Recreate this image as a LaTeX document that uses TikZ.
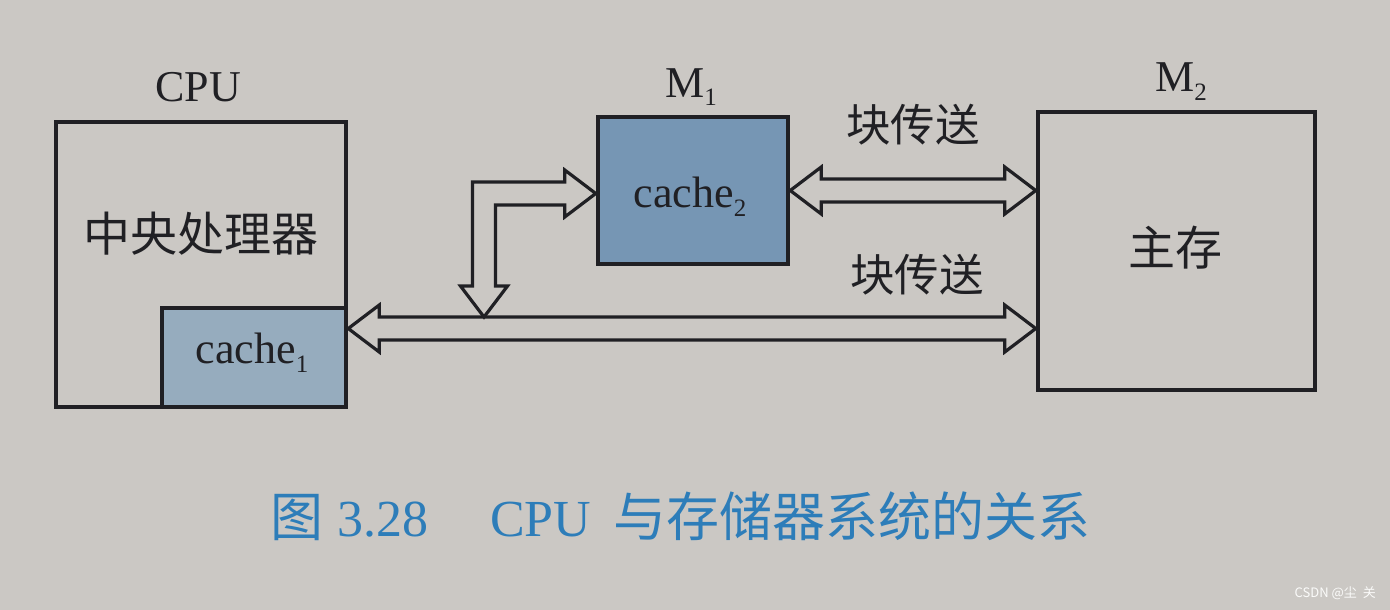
\documentclass[tikz,border=0pt]{standalone}
\usepackage{fontspec}
\setmainfont{Liberation Serif}
\newfontfamily\cjk{Noto Sans CJK SC}
\newfontfamily\wmfont{Noto Sans CJK SC}
\usetikzlibrary{calc}
\definecolor{bg}{RGB}{203,200,196}
\definecolor{ink}{RGB}{32,32,36}
\definecolor{cacheA}{RGB}{150,172,190}
\definecolor{cacheB}{RGB}{118,150,180}
\definecolor{capblue}{RGB}{45,125,185}
\def\arrHL{31pt}\def\arrHH{23.5pt}\def\arrSH{11.5pt}
\newcommand\subsc[1]{\raisebox{-9pt}{\fontsize{25}{25}\selectfont #1}}
\newcommand\dblarrow[2]{%
  \draw[hollow] let \p1=#1, \p2=#2 in
    (\x1,\y1) -- (\x1+\arrHL,\y1+\arrHH) -- (\x1+\arrHL,\y1+\arrSH)
    -- (\x2-\arrHL,\y1+\arrSH) -- (\x2-\arrHL,\y1+\arrHH) -- (\x2,\y1)
    -- (\x2-\arrHL,\y1-\arrHH) -- (\x2-\arrHL,\y1-\arrSH)
    -- (\x1+\arrHL,\y1-\arrSH) -- (\x1+\arrHL,\y1-\arrHH) -- cycle;}
\tikzset{
  box/.style={draw=ink, line width=4.5pt, inner sep=0pt, line join=miter},
  hollow/.style={draw=ink, line width=3.2pt, line join=miter, miter limit=10},
  lbl/.style={inner sep=0pt, font=\fontsize{44}{44}\selectfont, text=ink},
  cjklbl/.style={inner sep=0pt, font=\cjk\fontsize{47}{47}\selectfont, text=ink},
}
\begin{document}
\begin{tikzpicture}[x=1pt,y=-1pt]
\useasboundingbox (0,0) rectangle (1390,610);
\fill[bg] (0,0) rectangle (1390,610);

% boxes
\node[box, minimum width=290pt, minimum height=285pt] (cpu) at (201,264.5) {};
\node[box, fill=cacheA, minimum width=184pt, minimum height=99pt] (cache1) at (254,357.5) {};
\node[box, fill=cacheB, minimum width=190pt, minimum height=147pt] (m1) at (693,190.5) {};
\node[box, minimum width=277pt, minimum height=278pt] (m2) at (1176.5,251) {};

% labels
\node[lbl, anchor=base] (cpulbl) at (198,102) {CPU};
\node[lbl, anchor=base] (m1lbl) at (691,97) {M\subsc{1}};
\node[lbl, anchor=base] (m2lbl) at (1181,92) {M\subsc{2}};
\node[cjklbl] (cpuname) at (201,234) {中央处理器};
\node[lbl, anchor=base] (c1lbl) at (252,363) {cache\subsc{1}};
\node[lbl, anchor=base] (c2lbl) at (690,207) {cache\subsc{2}};
\node[cjklbl] (mainmem) at (1175,248) {主存};
\node[cjklbl, font=\cjk\fontsize{44.5}{44.5}\selectfont] (bt1) at (913,125) {块传送};
\node[cjklbl, font=\cjk\fontsize{44.5}{44.5}\selectfont] (bt2) at (917,275) {块传送};

% connector anchor points
\coordinate (busL) at ($(cache1.north east)!0.22!(cache1.south east)$);
\coordinate (busR) at (m2.west |- busL);
\coordinate (topR) at (m2.west |- m1.east);
\coordinate (lt) at ($(m1.west)+(0,3)$);
\coordinate (bjx) at (484,0);
\coordinate (bj) at ($(bjx |- busL)+(0,-11.5)$);

% double hollow arrows
\dblarrow{(m1.east)}{(topR)}
\dblarrow{(busL)}{(busR)}

% bent hollow arrow from bus to M1
\draw[hollow] let \p1=(lt), \p2=(bj) in
  (\x1,\y1) -- (\x1-\arrHL,\y1+\arrHH) -- (\x1-\arrHL,\y1+\arrSH)
  -- (\x2-\arrSH,\y1+\arrSH) -- (\x2-\arrSH,\y2+\arrHL)
  -- (\x2-\arrHH,\y2+\arrHL) -- (\x2,\y2) -- (\x2+\arrHH,\y2+\arrHL)
  -- (\x2+\arrSH,\y2+\arrHL) -- (\x2+\arrSH,\y1-\arrSH)
  -- (\x1-\arrHL,\y1-\arrSH) -- (\x1-\arrHL,\y1-\arrHH) -- cycle;

% caption
\node[inner sep=0pt, anchor=west, text=capblue, font=\fontsize{52}{52}\selectfont] (caption) at (270,516)
  {{\cjk\fontsize{53}{53}\selectfont 图}\hspace{14pt}3.28\hspace{62pt}CPU\hspace{22pt}{\cjk\fontsize{53}{53}\selectfont 与存储器系统的关系}};

% watermark
\node[inner sep=0pt, anchor=east, text=white!92!bg, font=\wmfont\fontsize{13}{13}\selectfont] (wm) at (1376,593) {CSDN @尘\ \ 关};
\end{tikzpicture}
\end{document}
